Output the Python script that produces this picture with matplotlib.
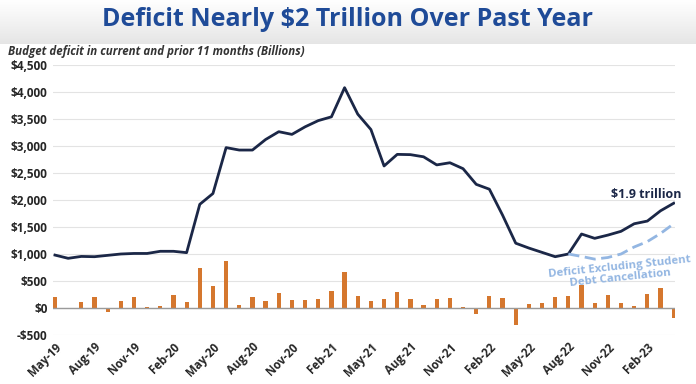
import numpy as np
import pandas as pd
from matplotlib import pyplot as plt

months = pd.date_range('2019-05-01', '2023-04-01', freq='MS')
month_labels = [m.strftime('%b-%y') for m in months]

# rolling 12-month deficit, billions
rolling = [980, 920, 955, 950, 975, 1000, 1010, 1010, 1050, 1050, 1025, 1920,
           2120, 2970, 2925, 2925, 3120, 3265, 3215, 3355, 3470, 3540, 4080, 3590,
           3305, 2630, 2845, 2840, 2800, 2650, 2690, 2580, 2290, 2200, 1720, 1200,
           1110, 1030, 950, 1000, 1370, 1290, 1350, 1420, 1560, 1610, 1800, 1940]

# monthly deficit, billions
monthly = [208, 8, 120, 200, -83, 134, 209, 13, 33, 235, 119, 738,
           399, 864, 63, 200, 125, 284, 145, 144, 163, 311, 660, 226,
           132, 174, 302, 171, 62, 165, 191, 21, -119, 217, 193, -308,
           66, 89, 211, 220, 430, 88, 249, 85, 39, 262, 378, -176]

# excluding student debt cancellation, Aug-22 onwards
excl_start = 39
excl = [1000, 955, 905, 935, 1000, 1130, 1230, 1380, 1560]

navy = '#1b2747'
orange = '#d5772e'
lightblue = '#93b6e2'
font = 'Open Sans'

fig = plt.figure(figsize=(6.96, 3.84), dpi=100)

# title band with soft gray gradient
band = fig.add_axes([0, 1 - 44 / 384, 1, 44 / 384])
grad = np.linspace(1.0, 0.9, 50).reshape(-1, 1)
band.imshow(np.dstack([grad, grad, grad]), aspect='auto', extent=[0, 1, 0, 1])
band.axis('off')

fig.text(0.5, 1 - 19 / 384, 'Deficit Nearly $2 Trillion Over Past Year', ha='center', va='center',
         fontsize=18, fontweight='bold', color='#1f4b98', family=font)
fig.text(8 / 696, 1 - 52 / 384, 'Budget deficit in current and prior 11 months (Billions)',
         ha='left', va='center', fontsize=8.3, fontweight='bold', style='italic',
         color='#333333', family=font)

ax = fig.add_axes([53 / 696, 1 - 335 / 384, (675 - 53) / 696, (335 - 65) / 384])
x = np.arange(len(months))

ax.bar(x, monthly, width=0.32, color=orange, zorder=2)
ax.axhline(0, color='#9a9a9a', lw=1, zorder=3)
ax.plot(x, rolling, color=navy, lw=2, zorder=4)
ax.plot(x[excl_start:], excl, color=lightblue, lw=2, ls=(0, (4, 2)), zorder=4)

ax.set_ylim(-500, 4500)
ax.set_xlim(-0.15, 47.1)
ax.set_yticks(np.arange(-500, 4501, 500))
ax.set_yticklabels([('-$' if v < 0 else '$') + f'{abs(v):,}' for v in range(-500, 4501, 500)],
                   fontsize=8.5, fontweight='bold', color='#262626', family=font)
ax.set_xticks(x[::3])
ax.set_xticklabels(month_labels[::3], rotation=45, ha='right', rotation_mode='anchor',
                   fontsize=8.3, fontweight='bold', color='#262626', family=font)
ax.tick_params(length=0, pad=4)
ax.grid(axis='y', color='#e3e3e3', lw=0.8, zorder=0)
for s in ax.spines.values():
    s.set_visible(False)

ax.text(44.9, 2110, '$1.9 trillion', ha='center', va='center', fontsize=9,
        fontweight='bold', color=navy, family=font, clip_on=False)
ax.text(42.9, 650, 'Deficit Excluding Student\nDebt Cancellation', ha='center', va='center',
        fontsize=8.2, fontweight='bold', color=lightblue, family=font, rotation=6,
        linespacing=1.0, clip_on=False)

fig.savefig('out.png', dpi=100)
